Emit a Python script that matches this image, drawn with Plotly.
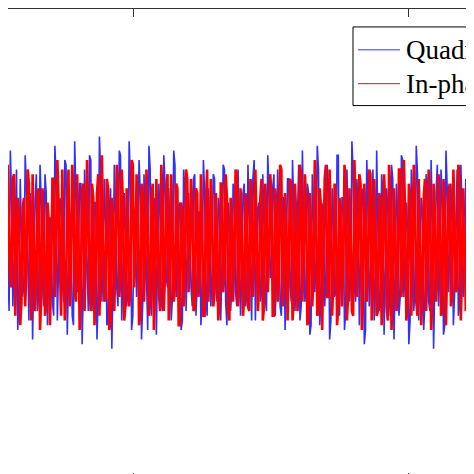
import plotly.graph_objects as go

quadrature = [
    1.2, -1.5, 0.8, -1.9, 1.6, -0.7, 2.0, -1.3, 0.5, -1.8, 1.4, -1.1, 1.9, -0.6, 1.1, -2.0, 0.9, -1.4, 1.7, -0.9,
    1.5, -1.7, 0.6, -1.2, 2.1, -1.6, 1.0, -0.8, 1.8, -1.9, 0.7, -1.5, 2.2, -1.0, 1.3, -2.1, 1.6, -0.6, 1.9, -1.4,
    0.9, -2.0, 2.3, -1.2, 1.4, -1.7, 0.8, -2.2, 1.7, -0.9, 2.0, -1.6, 1.1, -1.3, 2.2, -1.8, 0.6, -1.1, 1.8, -2.0,
    1.5, -0.8, 2.1, -1.5, 0.9, -1.9, 1.3, -1.2, 1.9, -0.7, 1.2, -1.6, 2.0, -1.1, 0.8, -1.8, 1.6, -1.4, 1.1, -0.9,
    1.4, -1.5, 0.7, -1.7, 1.8, -1.0, 1.2, -1.3, 1.5, -0.8, 1.0, -1.6, 1.7, -1.2, 0.9, -1.4, 1.3, -1.0, 1.6, -1.5,
    1.1, -1.3, 1.7, -0.9, 1.4, -1.6, 0.8, -1.2, 1.5, -1.1, 1.9, -0.7, 1.2, -1.5, 1.6, -1.3, 1.0, -1.8, 1.4, -0.9,
    1.8, -1.4, 0.9, -1.6, 2.0, -1.2, 1.3, -1.9, 1.5, -1.0, 2.1, -1.7, 0.8, -1.3, 1.7, -2.0, 1.2, -1.1, 1.9, -1.5,
    1.0, -1.8, 1.6, -1.2, 2.2, -0.9, 1.4, -1.7, 1.1, -2.1, 1.8, -1.3, 0.9, -1.6, 2.0, -1.4, 1.5, -1.9, 1.2, -1.0,
    1.7, -2.0, 1.3, -1.5, 1.9, -1.1, 0.9, -2.1, 1.6, -1.4, 2.1, -1.6, 1.0, -1.8, 1.5, -1.2, 1.8, -2.2, 1.1, -1.3,
    1.6, -1.9, 2.0, -1.0, 1.3, -1.7, 0.8, -1.5, 1.7, -1.1, 1.4, -1.8, 1.9, -0.9, 1.2, -1.6, 1.5, -1.3, 1.0, -1.4,
    0.4, -0.9, 1.3, -0.3, 0.7, -1.4, 1.0, -0.5, 1.6, -1.1, 0.2, -0.8, 1.2, -1.6, 0.6, -0.2, 1.5, -1.0, 0.9, -1.3,
    1.1, -0.6, 0.3, -1.5, 1.4, -0.4, 0.8, -1.2, 1.7, -0.7, 0.5, -1.7, 1.0, -0.3, 1.3, -0.9, 0.6, -1.4, 1.8, -0.5,
    0.9, -1.1, 1.5, -0.2, 0.4, -1.6, 1.2, -0.8, 0.7, -1.3, 1.9, -0.6, 0.3, -1.0, 1.4, -1.5, 0.8, -0.4, 1.1, -1.2,
    0.5, -1.8, 1.6, -0.7, 1.0, -0.3, 0.6, -1.4, 1.3, -0.9, 0.2, -1.1, 1.7, -0.5, 0.9, -1.6, 1.2, -0.2, 0.4, -1.3,
    1.5, -0.8, 0.7, -1.0, 1.1, -1.5, 0.3, -0.6, 1.4, -1.2, 0.8, -0.4, 1.6, -1.7, 0.5, -0.9, 1.0, -1.3, 0.2, -0.7,
    1.3, -1.1, 0.6, -1.6, 1.8, -0.3, 0.9, -1.0, 0.4, -1.4, 1.2, -0.6, 1.5, -0.8, 0.7, -1.5, 1.0, -0.2, 1.4, -1.2,
    0.8, -0.5, 1.7, -1.3, 0.3, -0.9, 1.1, -1.7, 0.6, -0.4, 1.6, -1.1, 0.9, -0.7, 1.3, -1.6, 0.5, -1.0, 1.9, -0.3,
    1.0, -1.4, 0.4, -0.8, 1.5, -1.2, 0.7, -0.2, 1.2, -1.8, 0.9, -0.6, 1.6, -1.0, 0.2, -1.3, 1.1, -0.5, 0.8, -1.5,
    1.4, -0.7, 0.6, -1.1, 1.8, -0.4, 0.3, -1.6, 1.0, -0.9, 1.5, -0.3, 0.7, -1.2, 1.3, -1.4, 0.5, -0.8, 1.7, -0.6,
    0.9, -1.7, 1.2, -0.2, 0.4, -1.0, 1.6, -1.3, 0.8, -0.5, 1.1, -1.5, 0.3, -0.9, 1.4, -0.7, 1.0, -1.1, 0.6, -1.4,
]
in_phase = [
    -1.0, 1.3, -1.6, 0.9, -1.2, 1.7, -0.7, 1.4, -1.5, 1.0, -1.7, 0.8, -1.3, 1.6, -0.9, 1.5, -1.4, 1.1, -1.8, 1.2,
    -1.5, 0.9, -1.7, 1.4, -1.1, 1.8, -0.8, 1.6, -1.6, 1.0, -1.3, 1.7, -1.0, 1.5, -1.8, 1.2, -1.4, 1.8, -0.9, 1.3,
    -1.7, 1.1, -1.5, 1.9, -1.2, 1.4, -1.8, 1.0, -1.4, 1.7, -1.1, 1.6, -1.6, 1.2, -1.3, 1.8, -0.9, 1.5, -1.7, 1.3,
    -1.2, 1.6, -1.5, 1.0, -1.8, 1.4, -1.0, 1.7, -1.4, 1.1, -1.6, 1.5, -1.2, 1.3, -1.7, 0.9, -1.3, 1.6, -1.0, 1.4,
    -1.4, 1.2, -1.1, 1.5, -1.5, 0.9, -1.2, 1.4, -1.3, 1.1, -1.6, 1.3, -1.0, 1.5, -1.4, 1.0, -1.2, 1.6, -1.3, 1.2,
    -1.5, 1.1, -1.3, 1.4, -1.1, 1.6, -1.4, 1.0, -1.6, 1.3, -1.0, 1.5, -1.5, 1.2, -1.2, 1.7, -1.3, 1.1, -1.6, 1.4,
    -1.6, 1.3, -1.4, 1.7, -1.2, 1.5, -1.7, 1.1, -1.3, 1.8, -1.5, 1.2, -1.8, 1.4, -1.1, 1.6, -1.5, 1.3, -1.7, 1.0,
    -1.3, 1.7, -1.6, 1.2, -1.4, 1.8, -1.1, 1.5, -1.8, 1.3, -1.2, 1.6, -1.6, 1.4, -1.5, 1.1, -1.7, 1.5, -1.3, 1.7,
    -1.8, 1.2, -1.4, 1.6, -1.1, 1.8, -1.6, 1.3, -1.5, 1.7, -1.2, 1.4, -1.7, 1.0, -1.4, 1.6, -1.8, 1.3, -1.2, 1.5,
    -1.5, 1.4, -1.7, 1.1, -1.3, 1.6, -1.0, 1.7, -1.6, 1.2, -1.4, 1.5, -1.2, 1.3, -1.7, 1.1, -1.5, 1.6, -1.1, 1.4,
    -0.6, 1.1, -0.3, 0.8, -1.4, 0.4, -0.9, 1.5, -0.2, 0.7, -1.2, 1.0, -0.5, 1.3, -1.6, 0.3, -0.8, 1.2, -1.1, 0.6,
    -1.3, 0.5, -0.7, 1.4, -0.4, 0.9, -1.5, 0.2, -1.0, 1.6, -0.6, 1.1, -1.2, 0.4, -0.8, 1.3, -0.3, 0.7, -1.4, 1.0,
    -0.9, 1.5, -0.5, 0.3, -1.1, 1.2, -1.6, 0.6, -0.2, 1.4, -0.7, 0.9, -1.3, 0.5, -1.0, 1.7, -0.4, 0.8, -1.5, 1.1,
    -0.3, 0.6, -1.2, 1.3, -0.8, 0.2, -1.4, 1.0, -0.6, 1.5, -1.1, 0.4, -0.9, 1.2, -1.7, 0.7, -0.5, 1.4, -0.2, 0.9,
    -1.3, 1.1, -0.7, 0.5, -1.5, 1.6, -0.4, 0.8, -1.0, 0.3, -1.2, 1.3, -0.6, 1.0, -1.6, 0.6, -0.3, 1.5, -0.9, 0.4,
    -1.1, 0.8, -1.4, 1.2, -0.5, 0.2, -0.8, 1.4, -1.3, 0.7, -0.2, 1.1, -1.5, 0.9, -0.7, 1.6, -1.0, 0.5, -0.4, 1.3,
    -1.2, 0.6, -0.9, 1.5, -0.3, 1.0, -1.6, 0.4, -0.6, 1.2, -1.4, 0.8, -0.2, 1.7, -1.1, 0.3, -0.8, 1.1, -1.3, 0.7,
    -0.5, 1.4, -1.0, 0.2, -1.5, 0.9, -0.4, 1.3, -1.2, 0.6, -0.7, 1.5, -0.9, 0.5, -1.4, 1.0, -0.3, 0.8, -1.6, 1.2,
    -0.8, 0.4, -1.1, 1.6, -0.6, 0.7, -1.3, 1.1, -0.2, 0.9, -1.5, 0.3, -1.0, 1.4, -0.5, 1.2, -1.2, 0.6, -0.7, 1.0,
    -1.4, 0.8, -0.3, 1.3, -1.1, 0.5, -0.9, 1.5, -0.6, 0.2, -1.3, 1.1, -0.4, 0.7, -1.6, 1.4, -0.8, 0.9, -1.0, 0.6,
]
series_names = ["Quadrature", "In-phase"]
colors = ["#3030ff", "#ff0000"]

# interleave the low-amplitude second half with the first half so the band fills in
n = len(quadrature) // 2
q_sig, i_sig = [], []
for k in range(n):
    q_sig += [quadrature[k], quadrature[n + k]]
    i_sig += [in_phase[k], in_phase[n + k]]
t = [i * 0.0045 for i in range(len(q_sig))]

fig = go.Figure()
fig.add_trace(go.Scatter(x=t, y=q_sig, mode="lines", name=series_names[0],
                         line=dict(color=colors[0], width=1.6)))
fig.add_trace(go.Scatter(x=t, y=i_sig, mode="lines", name=series_names[1],
                         line=dict(color=colors[1], width=2.6)))

# hand-built legend so the box can run off the right edge like the original
W = 474.0
def px(v):
    return v / W
def py(v):
    return 1 - v / W

fig.add_shape(type="rect", xref="paper", yref="paper", x0=px(345), x1=px(490), y0=py(97), y1=py(18),
              fillcolor="white", line=dict(color="black", width=1), layer="above")
for k, (name, c) in enumerate(zip(series_names, colors)):
    yy = py(41 + 34 * k)
    fig.add_shape(type="line", xref="paper", yref="paper", x0=px(350), x1=px(392), y0=yy, y1=yy,
                  line=dict(color=c, width=1), layer="above")
    fig.add_annotation(xref="paper", yref="paper", x=px(396), y=yy, text=name, showarrow=False,
                       xanchor="left", yanchor="middle",
                       font=dict(family="Liberation Serif", size=27, color="black"))

fig.update_layout(
    width=474, height=474,
    margin=dict(l=0, r=0, t=1, b=1),
    showlegend=False,
    plot_bgcolor="white", paper_bgcolor="white",
    xaxis=dict(range=[0.0455, 1.769], tickvals=[0.5, 1.5], showgrid=False, zeroline=False,
               showticklabels=False, ticks="inside", ticklen=8, tickcolor="#333",
               showline=True, mirror="ticks", linecolor="#333", linewidth=1),
    yaxis=dict(range=[-5, 5], showgrid=False, zeroline=False, showticklabels=False, ticks=""),
)
fig.write_html("out.html")
